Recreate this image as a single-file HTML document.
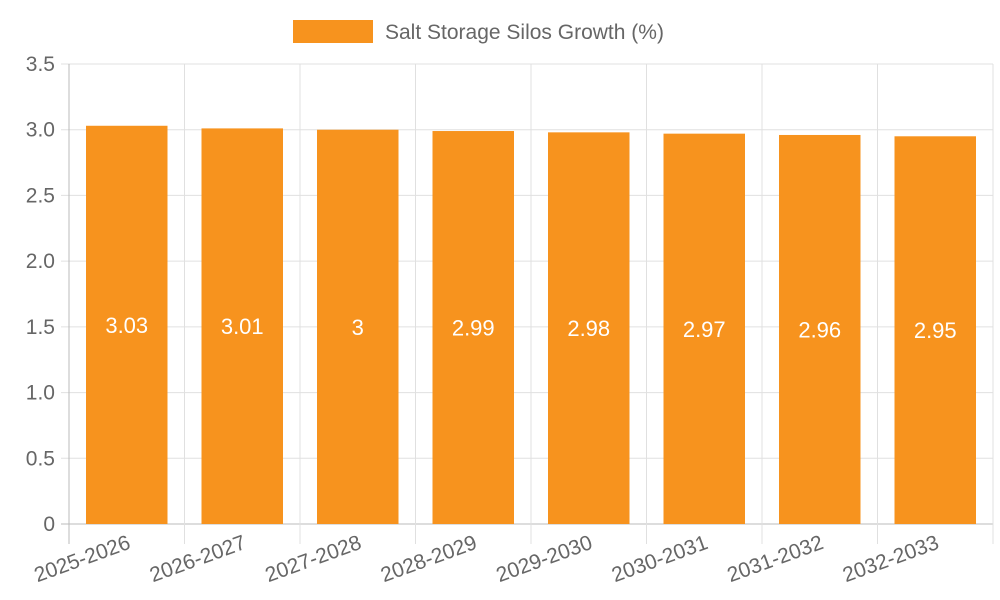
<!DOCTYPE html>
<html><head><meta charset="utf-8"><style>body{margin:0;background:#fff}svg{display:block;font-family:"Liberation Sans",sans-serif}</style></head>
<body>
<svg id="chart" width="1000" height="600">
<g><rect x="293" y="20" width="80" height="23" fill="#f7931e"/><text x="385" y="39" font-size="21" fill="#666">Salt Storage Silos Growth (%)</text></g>
<g id="grid"></g><g id="bars"></g>
</svg>
<script>
const categories=["2025-2026","2026-2027","2027-2028","2028-2029","2029-2030","2030-2031","2031-2032","2032-2033"];
const values=[3.03,3.01,3,2.99,2.98,2.97,2.96,2.95];
const yTicks=[0,0.5,1,1.5,2,2.5,3,3.5];
const yTickLabels=["0","0.5","1.0","1.5","2.0","2.5","3.0","3.5"];
const NS="http://www.w3.org/2000/svg";
const L=69,R=993,T=64,B=524,yMax=3.5;
const y=v=>B-(v/yMax)*(B-T);
const bw=(R-L)/categories.length;
const x=i=>L+i*bw;
function mk(tag,attrs,parent,txt){const e=document.createElementNS(NS,tag);for(const k in attrs)e.setAttribute(k,attrs[k]);if(txt!==undefined)e.textContent=txt;parent.appendChild(e);return e;}
const g=document.getElementById('grid'),bg=document.getElementById('bars');
yTicks.forEach((t,i)=>{
 const ln=mk('line',{x1:L-8,x2:R,y1:y(t),y2:y(t),stroke:i==0?'#bbb':'#e0e0e0','stroke-width':1},g);
 
 
 const tx=mk('text',{x:L-14,y:y(t)+7,'text-anchor':'end','font-size':21,fill:'#666'},g,yTickLabels[i]);
 
 
});
for(let i=0;i<=categories.length;i++){
 const ln=mk('line',{x1:x(i),x2:x(i),y1:T,y2:B+20,stroke:i==0?'#bbb':'#e0e0e0','stroke-width':1},g);
 
 
}
categories.forEach((c,i)=>{
 const x0=x(i)+17,w=bw-34;
 const r=mk('rect',{x:x0,y:y(values[i]),width:w,height:B-y(values[i]),fill:'#f7931e'},bg);
 
 
 const v=mk('text',{x:x0+w/2,y:(y(values[i])+B)/2+8,'text-anchor':'middle','font-size':22,fill:'#fff'},bg,String(values[i]));
 
 
 const cx=x(i)+bw/2+5,cy=548;
 const t=mk('text',{x:cx,y:cy,'text-anchor':'end','font-size':21,fill:'#666',transform:`rotate(-20 ${cx} ${cy})`},bg,c);
 
 
});
</script>
</body></html>
